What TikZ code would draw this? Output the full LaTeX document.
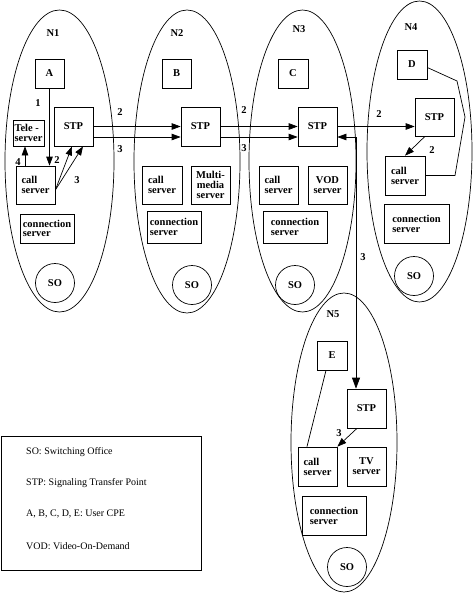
\documentclass[tikz,border=0pt]{standalone}
\usepackage{fontspec}
\setmainfont{Liberation Serif}
\usetikzlibrary{shapes.geometric,arrows.meta}
\begin{document}
\begin{tikzpicture}[x=1pt,y=-1pt,
  net/.style={draw, ellipse, inner sep=0pt, line width=0.7pt},
  bx/.style 2 args={draw, line width=0.7pt, inner sep=0pt, minimum width=#1pt, minimum height=#2pt,
     font=\fontsize{10.5}{10}\selectfont\bfseries, align=left},
  cnfont/.style={font=\fontsize{10.5}{9.6}\selectfont\bfseries},
  so/.style={draw, circle, minimum size=39pt, inner sep=0pt, line width=0.7pt,
     font=\fontsize{10.5}{10}\selectfont\bfseries},
  lbl/.style={font=\fontsize{10.5}{10}\selectfont\bfseries, inner sep=0pt},
  conn/.style={line width=0.7pt},
  arr/.style={conn, -{Triangle[length=9pt,width=6.5pt]}},
  arrb/.style={conn, {Triangle[length=9pt,width=6.5pt]}-{Triangle[length=11pt,width=8pt]}},
  leg/.style={font=\fontsize{10}{12}\selectfont, anchor=west, inner sep=0pt}]
\useasboundingbox (0,0) rectangle (474,594);

% ---------- networks ----------
\node[net, minimum width=109pt, minimum height=302pt] (n1) at (59.5,161) {};
\node[net, minimum width=106pt, minimum height=303pt] (n2) at (187,161.5) {};
\node[net, minimum width=107pt, minimum height=302pt] (n3) at (302.5,161) {};
\node[net, minimum width=105pt, minimum height=301pt] (n4) at (419.5,151.5) {};
\node[net, minimum width=106pt, minimum height=299pt] (n5) at (344,442.5) {};
\node[lbl] (n1l) at (53,33) {N1};
\node[lbl] (n2l) at (177,33) {N2};
\node[lbl] (n3l) at (299,29) {N3};
\node[lbl] (n4l) at (411,27) {N4};
\node[lbl] (n5l) at (333,314) {N5};

% ---------- N1 ----------
\node[bx={29}{29}] (A) at (49.5,73.5) {A};
\node[bx={31}{26}] (tele) at (28.5,133) {Tele -\\server};
\node[bx={39}{39}] (s1) at (73.5,126.5) {STP};
\node[bx={39}{38}] (cs1) at (35.5,185) {call\\server};
\node[bx={54}{29}, cnfont] (cn1) at (47,228.5) {connection\\server};
\node[so] (so1) at (55,283) {SO};

% ---------- N2 ----------
\node[bx={29}{29}] (B) at (176.5,73.5) {B};
\node[bx={39}{39}] (s2) at (200.5,126.5) {STP};
\node[bx={40}{38}] (cs2) at (162,185) {call\\server};
\node[bx={39}{38}, align=center] (mm2) at (210.5,185) {Multi-\\media\\server};
\node[bx={54}{32}, cnfont] (cn2) at (174,227) {connection\\server};
\node[so] (so2) at (192,285) {SO};

% ---------- N3 ----------
\node[bx={30}{29}] (C) at (293,73.5) {C};
\node[bx={39}{39}] (s3) at (317.5,126.5) {STP};
\node[bx={39}{38}] (cs3) at (278.5,185) {call\\server};
\node[bx={39}{38}, align=center] (vod3) at (327.5,185) {VOD\\server};
\node[bx={64}{32}, cnfont] (cn3) at (295,227) {connection\\server};
\node[so] (so3) at (295,285) {SO};

% ---------- N4 ----------
\node[bx={30}{29}] (D) at (412,64.5) {D};
\node[bx={39}{38}] (s4) at (434.5,117) {STP};
\node[bx={40}{39}] (cs4) at (405,175.5) {call\\server};
\node[bx={65}{39}] (cn4) at (416.5,223.5) {connection\\server};
\node[so] (so4) at (414,276) {SO};

% ---------- N5 ----------
\node[bx={30}{29}] (E) at (332,355.5) {E};
\node[bx={39}{39}] (s5) at (366.5,408.5) {STP};
\node[bx={39}{39}] (cs5) at (317.5,466.5) {call\\server};
\node[bx={39}{39}, align=center] (tv5) at (366.5,466.5) {TV\\server};
\node[bx={64}{39}] (cn5) at (334,515.5) {connection\\server};
\node[so] (so5) at (347,567) {SO};

% ---------- connectors N1 ----------
\draw[arr] (A.south) -- (A.south |- cs1.north);
\draw[arr] ([xshift=-10.5pt]cs1.north) -- ([xshift=-10.5pt]cs1.north |- tele.south);
\draw[arr] ([yshift=-5pt]cs1.east) -- ([xshift=-1.5pt]s1.south);
\draw[arr] ([yshift=-5pt]cs1.east) -- ([xshift=9.5pt]s1.south);
\node[lbl] (l1) at (38,103) {1};
\node[lbl] (l4) at (18,162) {4};
\node[lbl] (l2a) at (57,160) {2};
\node[lbl] (l3a) at (77,180) {3};

% ---------- STP chain ----------
\draw[arr] (s1.east) -- (s1.east -| s2.west);
\draw[arr] ([yshift=-10.5pt]s1.east) -- ([yshift=-10.5pt]s1.east -| s2.west);
\draw[arr] (s2.east) -- (s2.east -| s3.west);
\draw[arr] ([yshift=-10.5pt]s2.east) -- ([yshift=-10.5pt]s2.east -| s3.west);
\draw[arr] (s3.east) -- (s3.east -| s4.west);
\draw[arrb] ([yshift=-10.5pt]s3.east) -| ([xshift=-10.5pt]s5.north);
\node[lbl] (l2b) at (120,112) {2};
\node[lbl] (l3b) at (120,149) {3};
\node[lbl] (l2c) at (244,110) {2};
\node[lbl] (l3c) at (244,148) {3};
\node[lbl] (l2d) at (379,114) {2};
\node[lbl] (l3d) at (363,257) {3};

% ---------- N4 ----------
\draw[arr] ([xshift=-9.5pt]s4.south) -- (cs4.north);
\coordinate (d1) at (457,81);
\coordinate (d2) at (465,117);
\coordinate (d3) at (455,175.5);
\draw[conn] ([yshift=-3pt]D.east) -- (d1) -- (d2) -- (d3) -- (cs4.east);
\node[lbl] (l2e) at (432,150) {2};

% ---------- N5 ----------
\draw[conn] ([xshift=-6pt]E.south) -- ([xshift=-10.5pt]cs5.north);
\draw[arr] ([xshift=-9.5pt]s5.south) -- (cs5.north east);
\node[lbl] (l3e) at (339,433) {3};

% ---------- legend ----------
\node[draw, line width=1pt, minimum width=200pt, minimum height=134pt, inner sep=0pt] (legend) at (101,503) {};
\node[leg] (t1) at (26,452) {SO: Switching Office};
\node[leg] (t2) at (26,483) {STP: Signaling Transfer Point};
\node[leg] (t3) at (26,514) {A, B, C, D, E: User CPE};
\node[leg] (t4) at (26,546) {VOD: Video-On-Demand};
\end{tikzpicture}
\end{document}
